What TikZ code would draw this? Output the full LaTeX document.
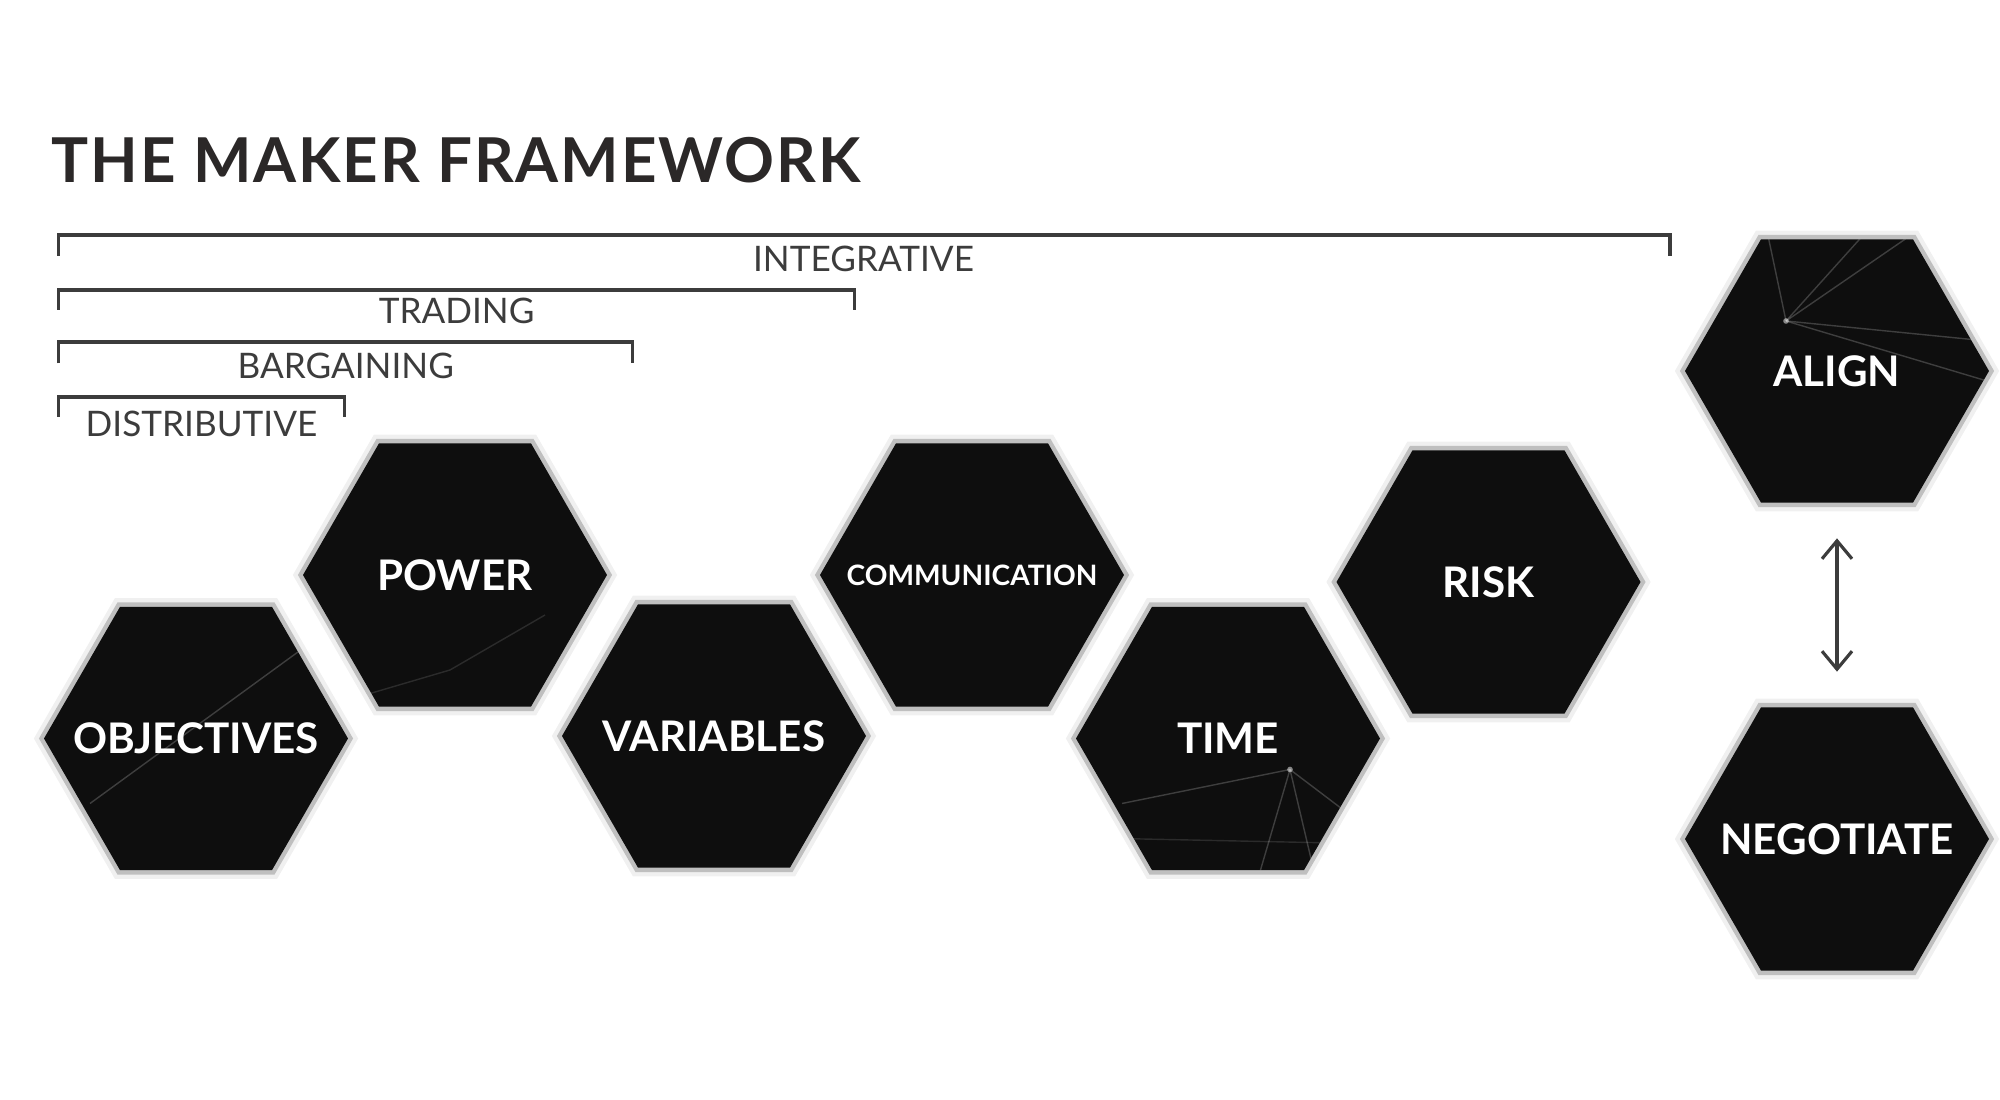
\documentclass[tikz,border=0pt]{standalone}
\usepackage{fontspec}
\setmainfont{Lato}
\usetikzlibrary{shapes.geometric, arrows.meta}
\definecolor{hexfill}{HTML}{0E0E0E}
\definecolor{inkgray}{HTML}{3C3C3C}
\definecolor{titlegray}{HTML}{2B2828}
\newcommand{\hexlabel}[1]{\makebox[0pt]{#1}}

\begin{document}
\begin{tikzpicture}[
    hexa/.style={regular polygon, regular polygon sides=6, minimum size=3.04cm, inner sep=0pt,
        fill=hexfill, text=white, font=\fontsize{12}{14}\selectfont\bfseries,
        preaction={draw=black!6, line width=5pt},
        preaction={draw=black!25, line width=2.5pt}},
    bracket/.style={draw=inkgray, line width=1pt},
    blabel/.style={text=inkgray, font=\fontsize{10}{12}\selectfont, inner sep=0pt},
    web/.style={white, opacity=0.2, line width=0.4pt}
]
    \useasboundingbox (0,0) rectangle (20,11);

    % title
    \node[anchor=base west, inner sep=0pt, text=titlegray,
          font=\fontsize{17.6}{20}\selectfont\bfseries\addfontfeature{LetterSpace=3.2}]
          (title) at (0.51,9.176) {THE MAKER FRAMEWORK};

    % brackets
    \draw[bracket] (0.587,8.44) |- (16.70,8.65) -- (16.70,8.44);
    \node[blabel] (integrative) at (8.635,8.41) {INTEGRATIVE};
    \draw[bracket] (0.587,7.90) |- (8.546,8.10) -- (8.546,7.90);
    \node[blabel] (trading) at (4.566,7.89) {TRADING};
    \draw[bracket] (0.587,7.365) |- (6.327,7.58) -- (6.327,7.365);
    \node[blabel] (bargaining) at (3.457,7.34) {BARGAINING};
    \draw[bracket] (0.587,6.83) |- (3.444,7.03) -- (3.444,6.83);
    \node[blabel] (distributive) at (2.015,6.76) {DISTRIBUTIVE};

    % hexagons
    \node[hexa, path picture={
        \draw[web] ([shift={(-1.06,-0.65)}]path picture bounding box.center)
              -- ([shift={(1.04,0.88)}]path picture bounding box.center);}]
        (objectives) at (1.96,3.615) {\hexlabel{OBJECTIVES}};
    \node[hexa, path picture={
        \draw[web, opacity=0.12] ([shift={(-0.9,-1.2)}]path picture bounding box.center)
              -- ([shift={(-0.05,-0.95)}]path picture bounding box.center)
              -- ([shift={(0.9,-0.4)}]path picture bounding box.center);}]
        (power) at (4.55,5.25) {\hexlabel{POWER}};
    \node[hexa] (variables) at (7.14,3.64) {\hexlabel{VARIABLES}};
    \node[hexa, font=\fontsize{8}{10}\selectfont\bfseries] (communication) at (9.72,5.25) {\hexlabel{COMMUNICATION}};
    \node[hexa, path picture={
        \coordinate (t) at ([shift={(0.62,-0.31)}]path picture bounding box.center);
        \fill[white, opacity=0.5] (t) circle (0.8pt);
        \draw[web] (t) -- ([shift={(-1.06,-0.65)}]path picture bounding box.center);
        \draw[web] (t) -- ([shift={(0.86,-1.33)}]path picture bounding box.center);
        \draw[web] (t) -- ([shift={(1.24,-0.78)}]path picture bounding box.center);
        \draw[web] (t) -- ([shift={(0.3,-1.4)}]path picture bounding box.center);
        \draw[web, opacity=0.12] ([shift={(-1.1,-1.0)}]path picture bounding box.center)
              -- ([shift={(1.3,-1.05)}]path picture bounding box.center);}]
        (time) at (12.28,3.615) {\hexlabel{TIME}};
    \node[hexa] (risk) at (14.885,5.18) {\hexlabel{RISK}};
    \node[hexa, path picture={
        \coordinate (a) at ([shift={(-0.51,0.50)}]path picture bounding box.center);
        \fill[white, opacity=0.5] (a) circle (0.8pt);
        \draw[web] (a) -- ([shift={(-0.7,1.4)}]path picture bounding box.center);
        \draw[web] (a) -- ([shift={(0.3,1.4)}]path picture bounding box.center);
        \draw[web] (a) -- ([shift={(0.8,1.4)}]path picture bounding box.center);
        \draw[web] (a) -- ([shift={(1.5,-0.1)}]path picture bounding box.center);
        \draw[web] (a) -- ([shift={(1.5,0.3)}]path picture bounding box.center);}]
        (align) at (18.37,7.29) {\hexlabel{ALIGN}};
    \node[hexa] (negotiate) at (18.37,2.61) {\hexlabel{NEGOTIATE}};

    % align <-> negotiate
    \draw[{Straight Barb[length=1.8mm,width=3mm]}-{Straight Barb[length=1.8mm,width=3mm]},
          inkgray, line width=0.9pt, shorten <=3.5mm, shorten >=3.5mm] (align) -- (negotiate);
\end{tikzpicture}
\end{document}
